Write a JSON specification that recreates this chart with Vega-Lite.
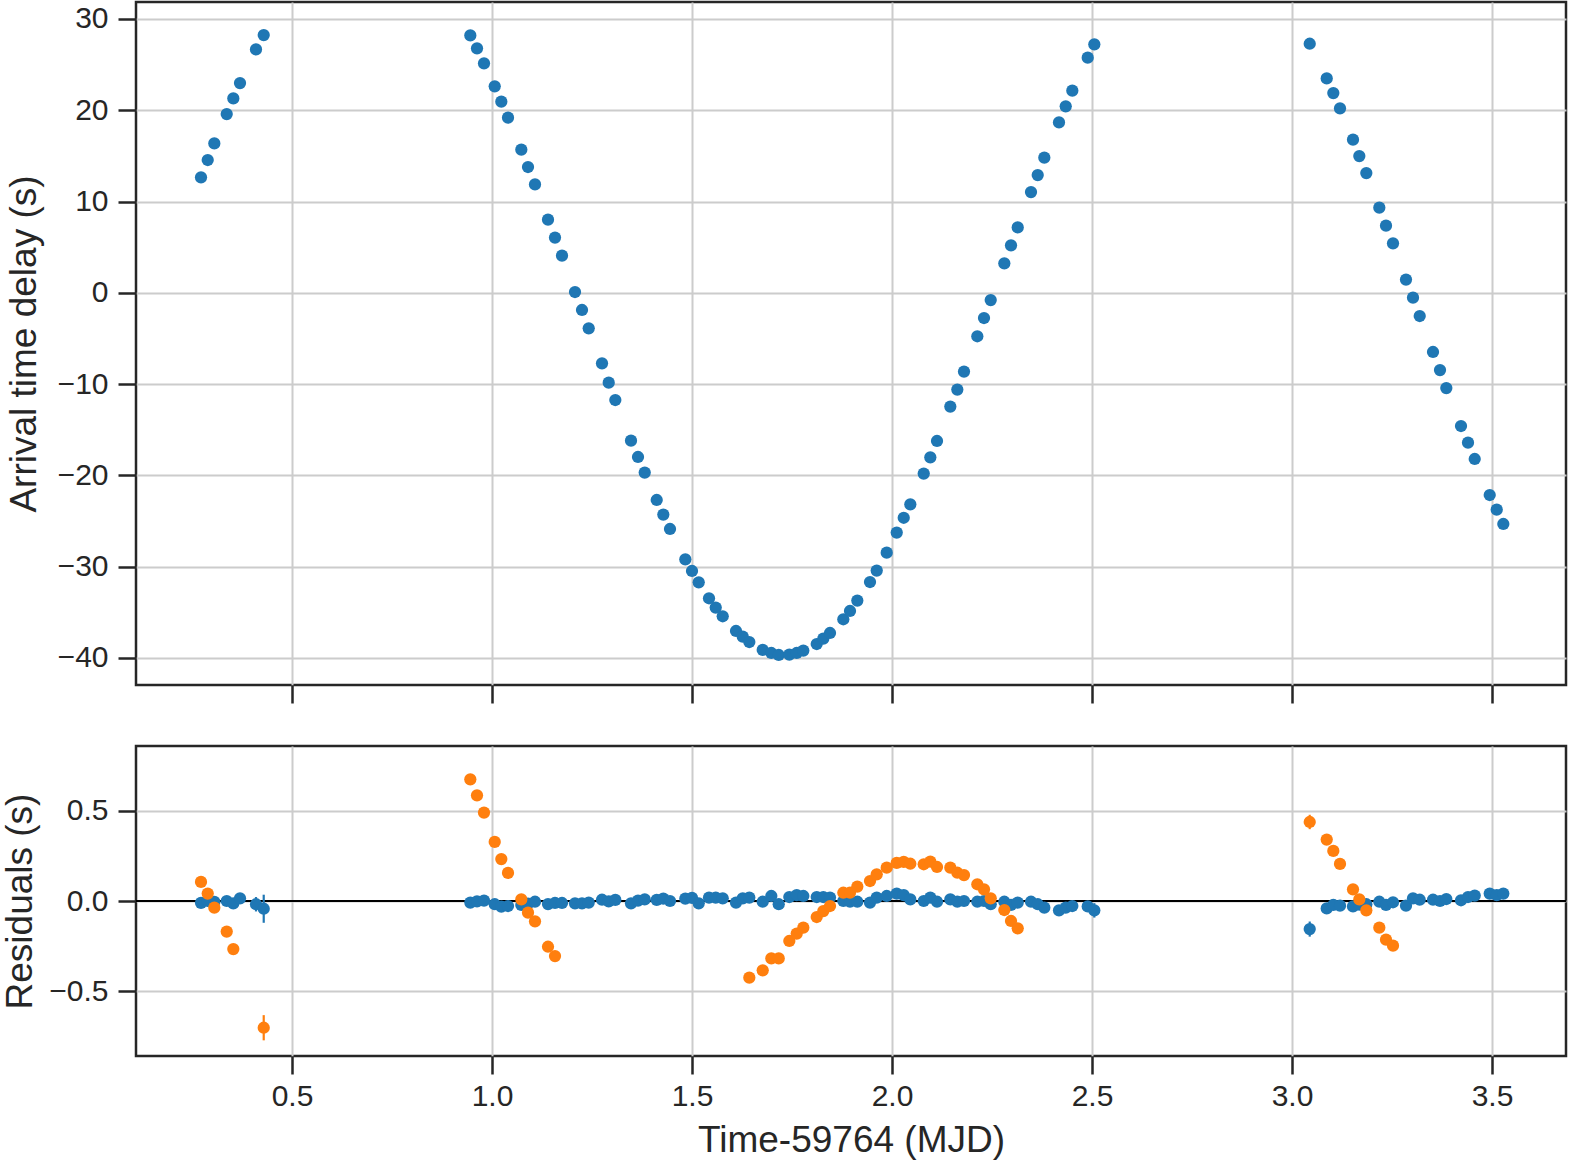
{
  "$schema": "https://vega.github.io/schema/vega-lite/v6.json",
  "padding": {"left": 0, "right": 4, "top": 0, "bottom": 2},
  "spacing": 38,
  "config": {
    "font": "Liberation Sans",
    "view": {"stroke": "#262626", "strokeWidth": 2.5},
    "axis": {
      "domain": false,
      "grid": true,
      "gridColor": "#cccccc",
      "gridWidth": 2,
      "ticks": true,
      "tickColor": "#262626",
      "tickWidth": 2.5,
      "tickSize": 18,
      "labelFontSize": 30,
      "labelColor": "#262626",
      "labelPadding": 10,
      "labelFlush": false,
      "titleFontSize": 37,
      "titleFontWeight": "normal",
      "titleColor": "#262626"
    }
  },
  "datasets": {
    "delay": [
      {"t": 0.2725, "d": 12.65}, {"t": 0.2893, "d": 14.55}, {"t": 0.3058, "d": 16.37}, {"t": 0.3368, "d": 19.58},
      {"t": 0.3533, "d": 21.30}, {"t": 0.37, "d": 22.98}, {"t": 0.41, "d": 26.67}, {"t": 0.4293, "d": 28.24},
      {"t": 0.9458, "d": 28.20}, {"t": 0.9625, "d": 26.78}, {"t": 0.98, "d": 25.14}, {"t": 1.0068, "d": 22.62},
      {"t": 1.0233, "d": 20.94}, {"t": 1.04, "d": 19.19}, {"t": 1.0733, "d": 15.68}, {"t": 1.09, "d": 13.78},
      {"t": 1.1075, "d": 11.88}, {"t": 1.14, "d": 8.02}, {"t": 1.1575, "d": 6.05}, {"t": 1.175, "d": 4.07},
      {"t": 1.2075, "d": 0.09}, {"t": 1.225, "d": -1.88}, {"t": 1.2418, "d": -3.89}, {"t": 1.275, "d": -7.72},
      {"t": 1.2918, "d": -9.84}, {"t": 1.3083, "d": -11.74}, {"t": 1.3475, "d": -16.19}, {"t": 1.365, "d": -17.98},
      {"t": 1.3818, "d": -19.69}, {"t": 1.4118, "d": -22.69}, {"t": 1.4283, "d": -24.29}, {"t": 1.445, "d": -25.87},
      {"t": 1.4833, "d": -29.19}, {"t": 1.5, "d": -30.47}, {"t": 1.5168, "d": -31.71}, {"t": 1.5425, "d": -33.46},
      {"t": 1.5593, "d": -34.48}, {"t": 1.5768, "d": -35.43}, {"t": 1.61, "d": -37.04}, {"t": 1.6268, "d": -37.66},
      {"t": 1.6433, "d": -38.25}, {"t": 1.6768, "d": -39.12}, {"t": 1.6983, "d": -39.45}, {"t": 1.7168, "d": -39.67},
      {"t": 1.7433, "d": -39.63}, {"t": 1.7618, "d": -39.45}, {"t": 1.7783, "d": -39.19}, {"t": 1.8118, "d": -38.47},
      {"t": 1.8283, "d": -37.88}, {"t": 1.845, "d": -37.26}, {"t": 1.8783, "d": -35.76}, {"t": 1.895, "d": -34.85},
      {"t": 1.9133, "d": -33.71}, {"t": 1.945, "d": -31.68}, {"t": 1.9618, "d": -30.43}, {"t": 1.9868, "d": -28.46},
      {"t": 2.0118, "d": -26.26}, {"t": 2.0293, "d": -24.64}, {"t": 2.0458, "d": -23.17}, {"t": 2.0793, "d": -19.80},
      {"t": 2.0958, "d": -18.02}, {"t": 2.1125, "d": -16.23}, {"t": 2.1458, "d": -12.46}, {"t": 2.1633, "d": -10.60},
      {"t": 2.18, "d": -8.63}, {"t": 2.2133, "d": -4.76}, {"t": 2.23, "d": -2.76}, {"t": 2.2468, "d": -0.79},
      {"t": 2.2808, "d": 3.23}, {"t": 2.2975, "d": 5.20}, {"t": 2.3143, "d": 7.17}, {"t": 2.3475, "d": 11.04},
      {"t": 2.3643, "d": 12.90}, {"t": 2.3808, "d": 14.81}, {"t": 2.4175, "d": 18.67}, {"t": 2.4343, "d": 20.43},
      {"t": 2.4508, "d": 22.15}, {"t": 2.4893, "d": 25.76}, {"t": 2.5058, "d": 27.22},
      {"t": 3.0443, "d": 27.29}, {"t": 3.0868, "d": 23.49}, {"t": 3.1033, "d": 21.88}, {"t": 3.12, "d": 20.21},
      {"t": 3.1525, "d": 16.78}, {"t": 3.1683, "d": 14.98}, {"t": 3.1858, "d": 13.12}, {"t": 3.2183, "d": 9.33},
      {"t": 3.235, "d": 7.36}, {"t": 3.2525, "d": 5.42}, {"t": 3.285, "d": 1.45}, {"t": 3.3025, "d": -0.53},
      {"t": 3.3193, "d": -2.54}, {"t": 3.3525, "d": -6.48}, {"t": 3.37, "d": -8.46}, {"t": 3.3858, "d": -10.43},
      {"t": 3.4225, "d": -14.59}, {"t": 3.44, "d": -16.41}, {"t": 3.4568, "d": -18.20}, {"t": 3.4943, "d": -22.15},
      {"t": 3.5118, "d": -23.75}, {"t": 3.5283, "d": -25.32}
    ],
    "resid": [
      {"t": 0.2725, "model": "A", "res": -0.010, "err": 0.008}, {"t": 0.2893, "model": "A", "res": 0.000, "err": 0.008},
      {"t": 0.3058, "model": "A", "res": -0.005, "err": 0.008}, {"t": 0.3368, "model": "A", "res": 0.000, "err": 0.008},
      {"t": 0.3533, "model": "A", "res": -0.013, "err": 0.008}, {"t": 0.37, "model": "A", "res": 0.015, "err": 0.008},
      {"t": 0.41, "model": "A", "res": -0.018, "err": 0.04}, {"t": 0.4293, "model": "A", "res": -0.043, "err": 0.078},
      {"t": 0.9458, "model": "A", "res": -0.009, "err": 0.008}, {"t": 0.9625, "model": "A", "res": -0.002, "err": 0.008},
      {"t": 0.98, "model": "A", "res": 0.002, "err": 0.008}, {"t": 1.0068, "model": "A", "res": -0.018, "err": 0.008},
      {"t": 1.0233, "model": "A", "res": -0.031, "err": 0.008}, {"t": 1.04, "model": "A", "res": -0.028, "err": 0.008},
      {"t": 1.0733, "model": "A", "res": -0.022, "err": 0.008}, {"t": 1.09, "model": "A", "res": -0.015, "err": 0.008},
      {"t": 1.1075, "model": "A", "res": -0.004, "err": 0.008}, {"t": 1.14, "model": "A", "res": -0.017, "err": 0.008},
      {"t": 1.1575, "model": "A", "res": -0.011, "err": 0.008}, {"t": 1.175, "model": "A", "res": -0.011, "err": 0.008},
      {"t": 1.2075, "model": "A", "res": -0.013, "err": 0.008}, {"t": 1.225, "model": "A", "res": -0.013, "err": 0.008},
      {"t": 1.2418, "model": "A", "res": -0.009, "err": 0.008}, {"t": 1.275, "model": "A", "res": 0.007, "err": 0.008},
      {"t": 1.2918, "model": "A", "res": -0.002, "err": 0.008}, {"t": 1.3083, "model": "A", "res": 0.006, "err": 0.008},
      {"t": 1.3475, "model": "A", "res": -0.013, "err": 0.008}, {"t": 1.365, "model": "A", "res": 0.002, "err": 0.008},
      {"t": 1.3818, "model": "A", "res": 0.009, "err": 0.008}, {"t": 1.4118, "model": "A", "res": 0.006, "err": 0.008},
      {"t": 1.4283, "model": "A", "res": 0.013, "err": 0.008}, {"t": 1.445, "model": "A", "res": 0.000, "err": 0.008},
      {"t": 1.4833, "model": "A", "res": 0.013, "err": 0.008}, {"t": 1.5, "model": "A", "res": 0.017, "err": 0.008},
      {"t": 1.5168, "model": "A", "res": -0.013, "err": 0.008}, {"t": 1.5425, "model": "A", "res": 0.019, "err": 0.008},
      {"t": 1.5593, "model": "A", "res": 0.019, "err": 0.008}, {"t": 1.5768, "model": "A", "res": 0.015, "err": 0.008},
      {"t": 1.61, "model": "A", "res": -0.009, "err": 0.008}, {"t": 1.6268, "model": "A", "res": 0.015, "err": 0.008},
      {"t": 1.6433, "model": "A", "res": 0.019, "err": 0.008}, {"t": 1.6768, "model": "A", "res": -0.004, "err": 0.008},
      {"t": 1.6983, "model": "A", "res": 0.028, "err": 0.008}, {"t": 1.7168, "model": "A", "res": -0.018, "err": 0.008},
      {"t": 1.7433, "model": "A", "res": 0.022, "err": 0.008}, {"t": 1.7618, "model": "A", "res": 0.033, "err": 0.008},
      {"t": 1.7783, "model": "A", "res": 0.028, "err": 0.008}, {"t": 1.8118, "model": "A", "res": 0.022, "err": 0.008},
      {"t": 1.8283, "model": "A", "res": 0.022, "err": 0.008}, {"t": 1.845, "model": "A", "res": 0.019, "err": 0.008},
      {"t": 1.8783, "model": "A", "res": 0.000, "err": 0.008}, {"t": 1.895, "model": "A", "res": -0.004, "err": 0.008},
      {"t": 1.9133, "model": "A", "res": -0.004, "err": 0.008}, {"t": 1.945, "model": "A", "res": -0.009, "err": 0.008},
      {"t": 1.9618, "model": "A", "res": 0.019, "err": 0.008}, {"t": 1.9868, "model": "A", "res": 0.028, "err": 0.008},
      {"t": 2.0118, "model": "A", "res": 0.041, "err": 0.008}, {"t": 2.0293, "model": "A", "res": 0.033, "err": 0.008},
      {"t": 2.0458, "model": "A", "res": 0.009, "err": 0.008}, {"t": 2.0793, "model": "A", "res": 0.000, "err": 0.008},
      {"t": 2.0958, "model": "A", "res": 0.019, "err": 0.008}, {"t": 2.1125, "model": "A", "res": -0.004, "err": 0.008},
      {"t": 2.1458, "model": "A", "res": 0.009, "err": 0.008}, {"t": 2.1633, "model": "A", "res": -0.004, "err": 0.008},
      {"t": 2.18, "model": "A", "res": 0.000, "err": 0.008}, {"t": 2.2133, "model": "A", "res": -0.004, "err": 0.008},
      {"t": 2.23, "model": "A", "res": 0.000, "err": 0.008}, {"t": 2.2468, "model": "A", "res": -0.018, "err": 0.008},
      {"t": 2.2808, "model": "A", "res": -0.004, "err": 0.008}, {"t": 2.2975, "model": "A", "res": -0.022, "err": 0.008},
      {"t": 2.3143, "model": "A", "res": -0.009, "err": 0.008}, {"t": 2.3475, "model": "A", "res": -0.004, "err": 0.008},
      {"t": 2.3643, "model": "A", "res": -0.018, "err": 0.008}, {"t": 2.3808, "model": "A", "res": -0.037, "err": 0.008},
      {"t": 2.4175, "model": "A", "res": -0.052, "err": 0.008}, {"t": 2.4343, "model": "A", "res": -0.037, "err": 0.008},
      {"t": 2.4508, "model": "A", "res": -0.028, "err": 0.008}, {"t": 2.4893, "model": "A", "res": -0.030, "err": 0.01},
      {"t": 2.5058, "model": "A", "res": -0.052, "err": 0.04},
      {"t": 3.0443, "model": "A", "res": -0.156, "err": 0.042}, {"t": 3.0868, "model": "A", "res": -0.041, "err": 0.008},
      {"t": 3.1033, "model": "A", "res": -0.022, "err": 0.008}, {"t": 3.12, "model": "A", "res": -0.026, "err": 0.008},
      {"t": 3.1525, "model": "A", "res": -0.030, "err": 0.008}, {"t": 3.1683, "model": "A", "res": -0.020, "err": 0.008},
      {"t": 3.1858, "model": "A", "res": -0.018, "err": 0.008}, {"t": 3.2183, "model": "A", "res": -0.004, "err": 0.008},
      {"t": 3.235, "model": "A", "res": -0.022, "err": 0.008}, {"t": 3.2525, "model": "A", "res": -0.007, "err": 0.008},
      {"t": 3.285, "model": "A", "res": -0.026, "err": 0.008}, {"t": 3.3025, "model": "A", "res": 0.015, "err": 0.008},
      {"t": 3.3193, "model": "A", "res": 0.007, "err": 0.008}, {"t": 3.3525, "model": "A", "res": 0.007, "err": 0.008},
      {"t": 3.37, "model": "A", "res": 0.000, "err": 0.008}, {"t": 3.3858, "model": "A", "res": 0.011, "err": 0.008},
      {"t": 3.4225, "model": "A", "res": 0.004, "err": 0.008}, {"t": 3.44, "model": "A", "res": 0.022, "err": 0.008},
      {"t": 3.4568, "model": "A", "res": 0.030, "err": 0.008}, {"t": 3.4943, "model": "A", "res": 0.041, "err": 0.008},
      {"t": 3.5118, "model": "A", "res": 0.033, "err": 0.008}, {"t": 3.5283, "model": "A", "res": 0.041, "err": 0.008},
      {"t": 0.2725, "model": "B", "res": 0.106, "err": 0.008}, {"t": 0.2893, "model": "B", "res": 0.041, "err": 0.008},
      {"t": 0.3058, "model": "B", "res": -0.037, "err": 0.008}, {"t": 0.3368, "model": "B", "res": -0.170, "err": 0.008},
      {"t": 0.3533, "model": "B", "res": -0.267, "err": 0.008}, {"t": 0.4293, "model": "B", "res": -0.704, "err": 0.07},
      {"t": 0.9458, "model": "B", "res": 0.676, "err": 0.008}, {"t": 0.9625, "model": "B", "res": 0.587, "err": 0.008},
      {"t": 0.98, "model": "B", "res": 0.491, "err": 0.008}, {"t": 1.0068, "model": "B", "res": 0.328, "err": 0.008},
      {"t": 1.0233, "model": "B", "res": 0.233, "err": 0.008}, {"t": 1.04, "model": "B", "res": 0.156, "err": 0.008},
      {"t": 1.0733, "model": "B", "res": 0.009, "err": 0.008}, {"t": 1.09, "model": "B", "res": -0.065, "err": 0.008},
      {"t": 1.1075, "model": "B", "res": -0.113, "err": 0.008}, {"t": 1.14, "model": "B", "res": -0.254, "err": 0.008},
      {"t": 1.1575, "model": "B", "res": -0.306, "err": 0.008},
      {"t": 1.6433, "model": "B", "res": -0.426, "err": 0.008}, {"t": 1.6768, "model": "B", "res": -0.385, "err": 0.008},
      {"t": 1.6983, "model": "B", "res": -0.319, "err": 0.008}, {"t": 1.7168, "model": "B", "res": -0.319, "err": 0.008},
      {"t": 1.7433, "model": "B", "res": -0.222, "err": 0.008}, {"t": 1.7618, "model": "B", "res": -0.181, "err": 0.008},
      {"t": 1.7783, "model": "B", "res": -0.148, "err": 0.008}, {"t": 1.8118, "model": "B", "res": -0.089, "err": 0.008},
      {"t": 1.8283, "model": "B", "res": -0.056, "err": 0.008}, {"t": 1.845, "model": "B", "res": -0.028, "err": 0.008},
      {"t": 1.8783, "model": "B", "res": 0.046, "err": 0.008}, {"t": 1.895, "model": "B", "res": 0.046, "err": 0.008},
      {"t": 1.9133, "model": "B", "res": 0.080, "err": 0.008}, {"t": 1.945, "model": "B", "res": 0.111, "err": 0.008},
      {"t": 1.9618, "model": "B", "res": 0.148, "err": 0.008}, {"t": 1.9868, "model": "B", "res": 0.185, "err": 0.008},
      {"t": 2.0118, "model": "B", "res": 0.212, "err": 0.008}, {"t": 2.0293, "model": "B", "res": 0.217, "err": 0.008},
      {"t": 2.0458, "model": "B", "res": 0.207, "err": 0.008}, {"t": 2.0793, "model": "B", "res": 0.204, "err": 0.008},
      {"t": 2.0958, "model": "B", "res": 0.219, "err": 0.008}, {"t": 2.1125, "model": "B", "res": 0.189, "err": 0.008},
      {"t": 2.1458, "model": "B", "res": 0.185, "err": 0.008}, {"t": 2.1633, "model": "B", "res": 0.157, "err": 0.008},
      {"t": 2.18, "model": "B", "res": 0.144, "err": 0.008}, {"t": 2.2133, "model": "B", "res": 0.093, "err": 0.008},
      {"t": 2.23, "model": "B", "res": 0.065, "err": 0.008}, {"t": 2.2468, "model": "B", "res": 0.015, "err": 0.008},
      {"t": 2.2808, "model": "B", "res": -0.050, "err": 0.008}, {"t": 2.2975, "model": "B", "res": -0.111, "err": 0.008},
      {"t": 2.3143, "model": "B", "res": -0.152, "err": 0.008},
      {"t": 3.0443, "model": "B", "res": 0.439, "err": 0.04}, {"t": 3.0868, "model": "B", "res": 0.341, "err": 0.008},
      {"t": 3.1033, "model": "B", "res": 0.278, "err": 0.008}, {"t": 3.12, "model": "B", "res": 0.206, "err": 0.008},
      {"t": 3.1525, "model": "B", "res": 0.065, "err": 0.008}, {"t": 3.1683, "model": "B", "res": 0.009, "err": 0.008},
      {"t": 3.1858, "model": "B", "res": -0.052, "err": 0.008}, {"t": 3.2183, "model": "B", "res": -0.148, "err": 0.008},
      {"t": 3.235, "model": "B", "res": -0.215, "err": 0.008}, {"t": 3.2525, "model": "B", "res": -0.248, "err": 0.008}
    ]
  },
  "vconcat": [
    {
      "width": 1430,
      "height": 683,
      "data": {"name": "delay"},
      "mark": {"type": "circle", "size": 150, "opacity": 1, "color": "#1f77b4"},
      "encoding": {
        "x": {
          "field": "t",
          "type": "quantitative",
          "scale": {"domain": [0.11, 3.685], "nice": false, "zero": false},
          "axis": {"values": [0.5, 1, 1.5, 2, 2.5, 3, 3.5], "labels": false, "title": null}
        },
        "y": {
          "field": "d",
          "type": "quantitative",
          "scale": {"domain": [-42.96, 31.86], "nice": false, "zero": false},
          "axis": {"values": [-40, -30, -20, -10, 0, 10, 20, 30], "format": "d", "title": "Arrival time delay (s)", "titlePadding": 14}
        }
      }
    },
    {
      "width": 1430,
      "height": 310,
      "data": {"name": "resid"},
      "layer": [
        {
          "mark": {"type": "rule", "color": "black", "strokeWidth": 2},
          "encoding": {
            "y": {
              "datum": 0,
              "type": "quantitative",
              "scale": {"domain": [-0.861, 0.861], "nice": false, "zero": false},
              "axis": {"values": [-0.5, 0, 0.5], "format": ".1f", "title": "Residuals (s)", "titlePadding": 9}
            }
          }
        },
        {
          "mark": {"type": "errorbar", "thickness": 2.2},
          "encoding": {
            "x": {
              "field": "t",
              "type": "quantitative",
              "scale": {"domain": [0.11, 3.685], "nice": false, "zero": false},
              "axis": {"values": [0.5, 1, 1.5, 2, 2.5, 3, 3.5], "format": ".1f", "title": "Time-59764 (MJD)", "labelPadding": 7, "titlePadding": 11}
            },
            "y": {
              "field": "res",
              "type": "quantitative",
              "scale": {"domain": [-0.861, 0.861], "nice": false, "zero": false},
              "axis": {"values": [-0.5, 0, 0.5], "format": ".1f", "title": "Residuals (s)", "titlePadding": 9}
            },
            "yError": {"field": "err"},
            "color": {"field": "model", "type": "nominal", "scale": {"domain": ["A", "B"], "range": ["#1f77b4", "#ff7f0e"]}, "legend": null}
          }
        },
        {
          "mark": {"type": "circle", "size": 150, "opacity": 1},
          "encoding": {
            "x": {
              "field": "t",
              "type": "quantitative",
              "scale": {"domain": [0.11, 3.685], "nice": false, "zero": false},
              "axis": {"values": [0.5, 1, 1.5, 2, 2.5, 3, 3.5], "format": ".1f", "title": "Time-59764 (MJD)", "labelPadding": 7, "titlePadding": 11}
            },
            "y": {
              "field": "res",
              "type": "quantitative",
              "scale": {"domain": [-0.861, 0.861], "nice": false, "zero": false},
              "axis": {"values": [-0.5, 0, 0.5], "format": ".1f", "title": "Residuals (s)", "titlePadding": 9}
            },
            "color": {"field": "model", "type": "nominal", "scale": {"domain": ["A", "B"], "range": ["#1f77b4", "#ff7f0e"]}, "legend": null}
          }
        }
      ]
    }
  ]
}
